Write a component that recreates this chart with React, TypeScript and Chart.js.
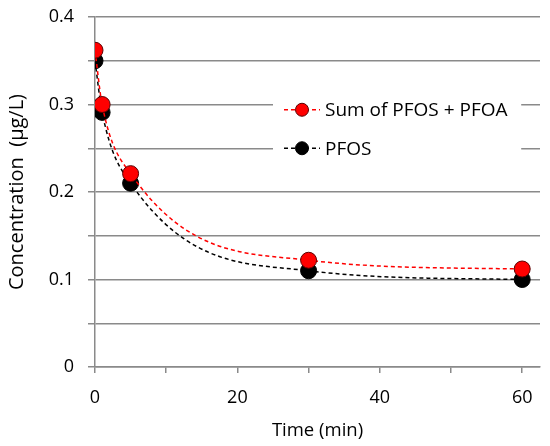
import React, { useEffect, useRef } from "react";
import { Chart, registerables } from "chart.js";

Chart.register(...registerables);

const times = [0, 1, 5, 30, 60];
const sumValues = [0.362, 0.3, 0.221, 0.122, 0.112];
const pfosValues = [0.35, 0.291, 0.21, 0.11, 0.1];
const seriesLabels = ["Sum of PFOS + PFOA", "PFOS"];
const xTickValues = [0, 10, 20, 30, 40, 50, 60];
const xTitle = "Time (min)";
const yTitle = "Concentration  (µg/L)";

const FONT = "'Open Sans', sans-serif";
const GRID = "#8a8a8a";

const legendPlugin = {
  id: "insideLegend",
  afterDatasetsDraw(chart: any) {
    const ctx = chart.ctx;
    const xs = chart.scales.x;
    const ys = chart.scales.y;
    ctx.save();
    const left = xs.getPixelForValue(25.0);
    const right = xs.getPixelForValue(60) - 1;
    const top = ys.getPixelForValue(0.315);
    const bottom = ys.getPixelForValue(0.23);
    ctx.fillStyle = "#ffffff";
    ctx.fillRect(left, top, right - left, bottom - top);
    const rows = [ys.getPixelForValue(0.294), ys.getPixelForValue(0.25)];
    chart.data.datasets.forEach((ds: any, i: number) => {
      const y = rows[i];
      const x0 = left + 11;
      const x1 = x0 + 36;
      ctx.strokeStyle = ds.borderColor;
      ctx.lineWidth = 1.5;
      ctx.setLineDash([4, 3]);
      ctx.beginPath();
      ctx.moveTo(x0, y);
      ctx.lineTo(x1, y);
      ctx.stroke();
      ctx.setLineDash([]);
      ctx.beginPath();
      ctx.arc((x0 + x1) / 2, y, 6.5, 0, Math.PI * 2);
      ctx.fillStyle = ds.pointBackgroundColor;
      ctx.fill();
      ctx.lineWidth = 1;
      ctx.strokeStyle = ds.pointBorderColor;
      ctx.stroke();
      ctx.fillStyle = "#000";
      ctx.font = `19px ${FONT}`;
      ctx.textBaseline = "middle";
      ctx.textAlign = "left";
      ctx.fillText(ds.label, x1 + 5, y + 1);
    });
    ctx.restore();
  },
};

export default function App() {
  const ref = useRef<HTMLCanvasElement>(null);
  useEffect(() => {
    document.body.style.margin = "0";
    const chart = new Chart(ref.current as HTMLCanvasElement, {
      type: "line",
      data: {
        datasets: [
          {
            label: seriesLabels[0],
            data: times.map((t, i) => ({ x: t, y: sumValues[i] })),
            borderColor: "#ff0000",
            backgroundColor: "#ff0000",
            pointBackgroundColor: "#ff0000",
            pointBorderColor: "#5a0000",
            pointBorderWidth: 1,
            pointRadius: 8,
            borderWidth: 1.5,
            borderDash: [4, 3],
            cubicInterpolationMode: "monotone",
          },
          {
            label: seriesLabels[1],
            data: times.map((t, i) => ({ x: t, y: pfosValues[i] })),
            borderColor: "#000000",
            backgroundColor: "#000000",
            pointBackgroundColor: "#000000",
            pointBorderColor: "#000000",
            pointBorderWidth: 1,
            pointRadius: 8,
            borderWidth: 1.5,
            borderDash: [4, 3],
            cubicInterpolationMode: "monotone",
          },
        ],
      },
      options: {
        responsive: false,
        animation: false,
        layout: { padding: { left: 0, right: 10, top: 17, bottom: 0 } },
        plugins: { legend: { display: false }, tooltip: { enabled: false } },
        scales: {
          x: {
            type: "linear",
            min: 0,
            max: 62.5,
            afterBuildTicks: (s: any) => {
              s.ticks = xTickValues.map((v) => ({ value: v }));
            },
            afterFit: (s: any) => {
              s.height = 79;
            },
            ticks: {
              autoSkip: false,
              maxRotation: 0,
              padding: 14,
              color: "#000",
              font: { family: FONT, size: 18 },
              callback: (v: any) => (Math.round(v) % 20 === 0 ? String(v) : ""),
            },
            grid: {
              drawOnChartArea: false,
              drawTicks: true,
              tickLength: 6,
              color: GRID,
              lineWidth: 1.5,
            },
            border: { display: true, color: GRID, width: 1.5 },
            title: {
              display: true,
              text: xTitle,
              color: "#000",
              font: { family: FONT, size: 18.5 },
              padding: { top: 0, bottom: 4 },
              align: "center",
            },
          },
          y: {
            type: "linear",
            min: 0,
            max: 0.4,
            afterFit: (s: any) => {
              s.width = 95;
              s.paddingTop = 0;
              s.paddingBottom = 0;
            },
            ticks: {
              stepSize: 0.05,
              autoSkip: false,
              padding: 14,
              color: "#000",
              font: { family: FONT, size: 18 },
              callback: (v: any) => {
                const n = Math.round(v * 100);
                if (n % 10 !== 0) return "";
                return n === 0 ? "0" : (n / 100).toFixed(1);
              },
            },
            grid: {
              drawOnChartArea: true,
              drawTicks: true,
              tickLength: 7,
              color: GRID,
              lineWidth: 1.5,
            },
            border: { display: true, color: GRID, width: 1.5 },
            title: {
              display: true,
              text: yTitle,
              color: "#000",
              font: { family: FONT, size: 20 },
              padding: { top: 5, bottom: 0 },
            },
          },
        },
      },
      plugins: [legendPlugin],
    } as any);
    return () => chart.destroy();
  }, []);
  return (
    <div style={{ position: "absolute", left: 0, top: 0, width: 550, height: 446, background: "#fff" }}>
      <canvas ref={ref} width={550} height={446} style={{ width: 550, height: 446 }} />
    </div>
  );
}
